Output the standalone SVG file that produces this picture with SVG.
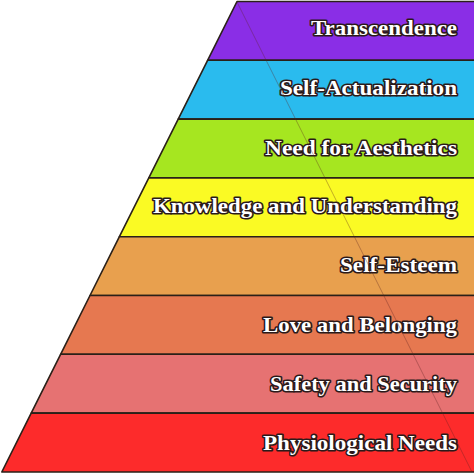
<svg xmlns="http://www.w3.org/2000/svg" width="474" height="473" viewBox="0 0 474 473">
<style>
.band{stroke:#2a2018;stroke-width:1.6;stroke-linejoin:round}
.lbl{font-family:"Liberation Serif","Times New Roman",serif;font-weight:bold;font-size:22px;fill:#ffffff;stroke:#2b1a1a;stroke-width:3.2;paint-order:stroke;stroke-linejoin:round;text-anchor:end}
</style>
<rect width="474" height="473" fill="#ffffff"/>
<g id="transcendence">
<polygon class="band" fill="#8a2ee6" points="237,1.5 475,1.5 475,60.3 207.6,60.3"/>
<text class="lbl" x="457" y="35" textLength="146" lengthAdjust="spacingAndGlyphs">Transcendence</text>
</g>
<g id="self-actualization">
<polygon class="band" fill="#2abbee" points="207.6,60.3 475,60.3 475,119.1 178.2,119.1"/>
<text class="lbl" x="457" y="94.5" textLength="177" lengthAdjust="spacingAndGlyphs">Self-Actualization</text>
</g>
<g id="aesthetics">
<polygon class="band" fill="#a6e620" points="178.2,119.1 475,119.1 475,177.9 148.8,177.9"/>
<text class="lbl" x="457" y="155" textLength="192" lengthAdjust="spacingAndGlyphs">Need for Aesthetics</text>
</g>
<g id="knowledge">
<polygon class="band" fill="#fafa24" points="148.8,177.9 475,177.9 475,236.7 119.4,236.7"/>
<text class="lbl" x="457" y="213" textLength="304" lengthAdjust="spacingAndGlyphs">Knowledge and Understanding</text>
</g>
<g id="self-esteem">
<polygon class="band" fill="#e8a04e" points="119.4,236.7 475,236.7 475,295.5 90,295.5"/>
<text class="lbl" x="457" y="272" textLength="117" lengthAdjust="spacingAndGlyphs">Self-Esteem</text>
</g>
<g id="love">
<polygon class="band" fill="#e67850" points="90,295.5 475,295.5 475,354.3 60.6,354.3"/>
<text class="lbl" x="457" y="331.5" textLength="194" lengthAdjust="spacingAndGlyphs">Love and Belonging</text>
</g>
<g id="safety">
<polygon class="band" fill="#e67272" points="60.6,354.3 475,354.3 475,413.1 31.2,413.1"/>
<text class="lbl" x="457" y="391" textLength="187" lengthAdjust="spacingAndGlyphs">Safety and Security</text>
</g>
<g id="physiological">
<polygon class="band" fill="#fd2b2b" points="31.2,413.1 475,413.1 475,472 1.8,472"/>
<text class="lbl" x="457" y="450" textLength="194" lengthAdjust="spacingAndGlyphs">Physiological Needs</text>
</g>
<line x1="237" y1="2" x2="472" y2="472" stroke="#5a2020" stroke-opacity="0.35" stroke-width="1"/>
</svg>
